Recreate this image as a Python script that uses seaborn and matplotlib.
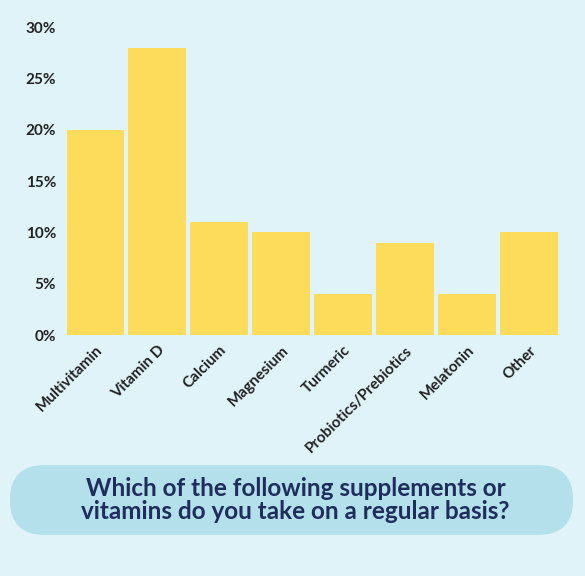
import matplotlib
matplotlib.use("Agg")
import matplotlib.pyplot as plt
import seaborn as sns
import pandas as pd
from matplotlib.patches import FancyBboxPatch

# data
supplements = ['Multivitamin', 'Vitamin D', 'Calcium', 'Magnesium', 'Turmeric',
               'Probiotics/Prebiotics', 'Melatonin', 'Other']
shares = [20, 28, 11, 10, 4, 9, 4, 10]
y_ticks = [0, 5, 10, 15, 20, 25, 30]
y_labels = ['0%', '5%', '10%', '15%', '20%', '25%', '30%']
title = 'Which of the following supplements or\nvitamins do you take on a regular basis?'

bg = '#dff3f9'
bar_color = '#fddc5c'
navy = '#1f2d5c'

sns.set_theme(style='white')
plt.rcParams['font.family'] = ['Lato', 'DejaVu Sans']

df = pd.DataFrame({'supplement': supplements, 'share': shares})

fig = plt.figure(figsize=(5.85, 5.76), dpi=100)
fig.patch.set_facecolor(bg)
ax = fig.add_axes([0.110, 0.4184, 0.847, 0.5346])
ax.set_facecolor(bg)

sns.barplot(data=df, x='supplement', y='share', color=bar_color, saturation=1,
            width=0.93, linewidth=0, ax=ax)

ax.set_xlim(-0.5, len(supplements) - 0.5)
ax.set_ylim(0, 30)
ax.set_yticks(y_ticks)
ax.set_yticklabels(y_labels, fontsize=11, fontweight='bold', color='#222222')
ax.set_xticks(range(len(supplements)))
ax.set_xticklabels(supplements, rotation=45, ha='right', rotation_mode='anchor',
                   fontsize=11, fontweight='bold', color='#222222')
ax.tick_params(axis='x', length=0, pad=6)
ax.tick_params(axis='y', length=0, pad=6)
ax.set_xlabel('')
ax.set_ylabel('')
sns.despine(ax=ax, left=True, bottom=True)

# rounded title box at the bottom
box = FancyBboxPatch((10 / 585, 1 - 535 / 576), 563 / 585, 70 / 576,
                     boxstyle='round,pad=0,rounding_size=0.06',
                     transform=fig.transFigure, facecolor='#b3e0ea',
                     edgecolor='none', mutation_aspect=576 / 585)
fig.patches.append(box)
fig.text(0.505, 1 - 500 / 576, title, ha='center', va='center', fontsize=17.5,
         fontweight='bold', color=navy, linespacing=0.95)

fig.savefig('out.png', dpi=100, facecolor=bg)
